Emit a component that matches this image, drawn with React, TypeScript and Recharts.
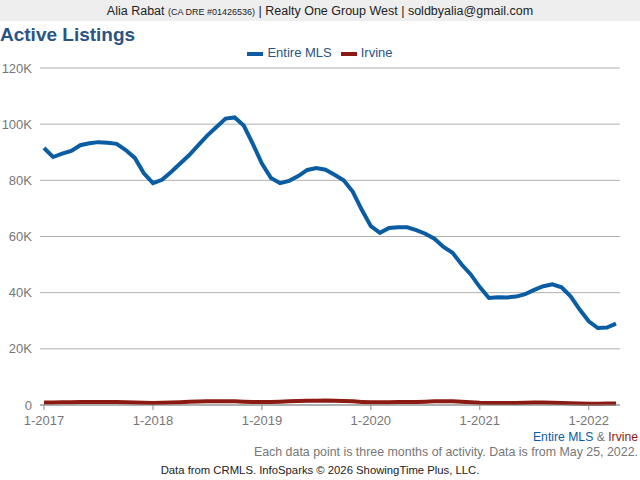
import React from 'react';
import { LineChart, Line, XAxis, YAxis, CartesianGrid } from 'recharts';

// monthly points, 1-2017 .. 4-2022
const months = [
  '1-2017', '2-2017', '3-2017', '4-2017', '5-2017', '6-2017', '7-2017', '8-2017', '9-2017', '10-2017', '11-2017', '12-2017',
  '1-2018', '2-2018', '3-2018', '4-2018', '5-2018', '6-2018', '7-2018', '8-2018', '9-2018', '10-2018', '11-2018', '12-2018',
  '1-2019', '2-2019', '3-2019', '4-2019', '5-2019', '6-2019', '7-2019', '8-2019', '9-2019', '10-2019', '11-2019', '12-2019',
  '1-2020', '2-2020', '3-2020', '4-2020', '5-2020', '6-2020', '7-2020', '8-2020', '9-2020', '10-2020', '11-2020', '12-2020',
  '1-2021', '2-2021', '3-2021', '4-2021', '5-2021', '6-2021', '7-2021', '8-2021', '9-2021', '10-2021', '11-2021', '12-2021',
  '1-2022', '2-2022', '3-2022', '4-2022',
];

const entireMls = [
  91500, 88300, 89500, 90500, 92500, 93200, 93600, 93400, 93000, 90800, 88000, 82500,
  79000, 80200, 83000, 86000, 89000, 92500, 96000, 99000, 102000, 102400, 99500, 93000,
  86000, 80800, 79000, 79800, 81500, 83700, 84400, 83800, 82000, 80000, 76000, 69500,
  63700, 61300, 63000, 63300, 63300, 62300, 61000, 59200, 56300, 54200, 50000, 46500,
  42000, 38100, 38400, 38300, 38600, 39500, 41000, 42300, 43000, 41900, 38700, 34000,
  29800, 27400, 27600, 29000,
];

const irvine = [
  900, 900, 950, 1000, 1050, 1100, 1100, 1100, 1050, 1000, 900, 800,
  750, 800, 900, 1000, 1150, 1250, 1300, 1350, 1350, 1300, 1200, 1100,
  1050, 1100, 1200, 1300, 1400, 1500, 1550, 1600, 1550, 1450, 1300, 1100,
  950, 950, 1000, 1050, 1050, 1100, 1200, 1300, 1350, 1300, 1200, 1000,
  800, 750, 700, 700, 750, 800, 850, 850, 800, 750, 650, 550,
  450, 450, 500, 550,
];

const yTicks = [0, 20000, 40000, 60000, 80000, 100000, 120000];

const BLUE = '#0a5ca3';
const RED = '#8b1a12';
const FONT = '"Liberation Sans", Arial, sans-serif';

const data = months.map((m, i) => ({ month: m, mls: entireMls[i], irvine: irvine[i] }));

const kFmt = (v: number) => (v === 0 ? '0' : `${v / 1000}K`);

export default function App() {
  return (
    <div style={{ position: 'absolute', left: 0, top: 0, width: 640, height: 480, background: '#fff', fontFamily: FONT }}>
      <div style={{ position: 'absolute', left: 0, top: 0, width: 640, height: 21, background: '#eeeeee', textAlign: 'center', lineHeight: '22px', fontSize: 12.5, color: '#222' }}>
        Alia Rabat <span style={{ fontSize: 9 }}>(CA DRE #01426536)</span> | Realty One Group West | soldbyalia@gmail.com
      </div>
      <div style={{ position: 'absolute', left: 0, top: 24, lineHeight: '22px', fontSize: 19, fontWeight: 'bold', color: '#2a5482' }}>
        Active Listings
      </div>

      {/* legend */}
      <div style={{ position: 'absolute', left: 0, top: 45, width: 640, textAlign: 'center', fontSize: 13, lineHeight: '16px', color: '#2a5482' }}>
        <span style={{ display: 'inline-block', width: 16, height: 4, background: BLUE, verticalAlign: 'middle', marginRight: 4 }} />
        Entire MLS
        <span style={{ display: 'inline-block', width: 16, height: 4, background: RED, verticalAlign: 'middle', marginLeft: 9, marginRight: 4 }} />
        Irvine
      </div>

      <div style={{ position: 'absolute', left: 0, top: 0 }}>
        <LineChart width={640} height={480} data={data} margin={{ top: 68, right: 20, bottom: 45, left: 0 }}>
          <CartesianGrid horizontal vertical={false} stroke="#b0b0b0" />
          <XAxis
            dataKey="month"
            interval={11}
            padding={{ left: 4, right: 4 }}
            height={30}
            stroke="#888"
            tickSize={5}
            tickMargin={6}
            tick={{ fill: '#777', fontSize: 13, fontFamily: FONT }}
          />
          <YAxis
            domain={[0, 120000]}
            ticks={yTicks}
            tickFormatter={kFmt}
            width={40}
            axisLine={false}
            tickLine={false}
            tick={{ fill: '#777', fontSize: 13, fontFamily: FONT }}
          />
          <Line type="linear" dataKey="irvine" stroke={RED} strokeWidth={4} dot={false} isAnimationActive={false} />
          <Line type="linear" dataKey="mls" stroke={BLUE} strokeWidth={4} dot={false} isAnimationActive={false} />
        </LineChart>
      </div>

      <div style={{ position: 'absolute', right: 2, top: 429, fontSize: 12.2, lineHeight: '16px' }}>
        <span style={{ color: BLUE }}>Entire MLS</span>
        <span style={{ color: '#777' }}> &amp; </span>
        <span style={{ color: RED }}>Irvine</span>
      </div>
      <div style={{ position: 'absolute', right: 2, top: 445, fontSize: 12.4, lineHeight: '14px', color: '#777' }}>
        Each data point is three months of activity. Data is from May 25, 2022.
      </div>
      <div style={{ position: 'absolute', left: 0, width: 640, top: 464, fontSize: 11.3, lineHeight: '13px', color: '#222', textAlign: 'center' }}>
        Data from CRMLS. InfoSparks © 2026 ShowingTime Plus, LLC.
      </div>
    </div>
  );
}
